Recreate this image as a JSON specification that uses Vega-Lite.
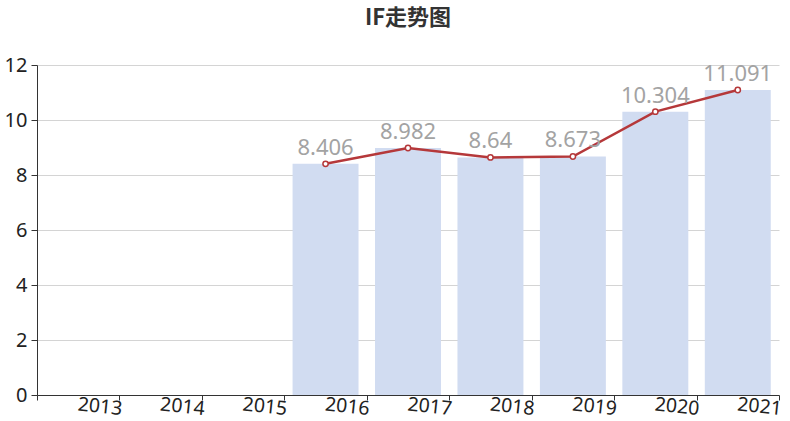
{
  "$schema": "https://vega.github.io/schema/vega-lite/v6.json",
  "autosize": "none",
  "width": 742,
  "height": 330,
  "padding": {"left": 37, "top": 65, "right": 11, "bottom": 26},
  "background": "white",
  "title": {
    "text": "IF走势图",
    "font": "Noto Sans CJK SC",
    "fontSize": 22,
    "fontWeight": "bold",
    "color": "#333333",
    "anchor": "middle",
    "frame": "group",
    "offset": 25
  },
  "config": {
    "view": {"stroke": null},
    "font": "Noto Sans"
  },
  "data": {
    "values": [
      {"year": "2013", "IF": null},
      {"year": "2014", "IF": null},
      {"year": "2015", "IF": null},
      {"year": "2016", "IF": 8.406},
      {"year": "2017", "IF": 8.982},
      {"year": "2018", "IF": 8.64},
      {"year": "2019", "IF": 8.673},
      {"year": "2020", "IF": 10.304},
      {"year": "2021", "IF": 11.091}
    ]
  },
  "encoding": {
    "x": {
      "field": "year",
      "type": "ordinal",
      "scale": {"domain": ["2013","2014","2015","2016","2017","2018","2019","2020","2021"], "paddingInner": 0, "paddingOuter": 0},
      "axis": {
        "title": null,
        "tickBand": "extent",
        "grid": false,
        "domainColor": "#333333",
        "tickColor": "#333333",
        "tickSize": 5,
        "labelAngle": 6,
        "labelAlign": "left",
        "labelBaseline": "top",
        "labelPadding": -5,
        "labelFontSize": 19.5,
        "labelColor": "#222222",
        "labelFont": "Noto Sans"
      }
    },
    "y": {
      "field": "IF",
      "type": "quantitative",
      "scale": {"domain": [0, 12], "nice": false},
      "axis": {
        "title": null,
        "values": [0, 2, 4, 6, 8, 10, 12],
        "grid": true,
        "gridColor": "#d4d4d4",
        "domainColor": "#333333",
        "tickColor": "#333333",
        "tickSize": 6,
        "labelPadding": 4,
        "labelFontSize": 20,
        "labelColor": "#222222",
        "labelFont": "Noto Sans"
      }
    }
  },
  "layer": [
    {
      "mark": {"type": "bar", "color": "#d1dcf1", "width": {"band": 0.8}}
    },
    {
      "mark": {"type": "line", "color": "#b5383a", "strokeWidth": 2.5}
    },
    {
      "mark": {"type": "point", "shape": "circle", "filled": true, "fill": "white", "stroke": "#b5383a", "strokeWidth": 1.5, "size": 28, "opacity": 1}
    },
    {
      "mark": {"type": "text", "color": "#a3a3a3", "fontSize": 22, "baseline": "bottom", "dy": -4, "font": "Noto Sans"},
      "encoding": {"text": {"field": "IF", "type": "nominal"}}
    }
  ]
}
